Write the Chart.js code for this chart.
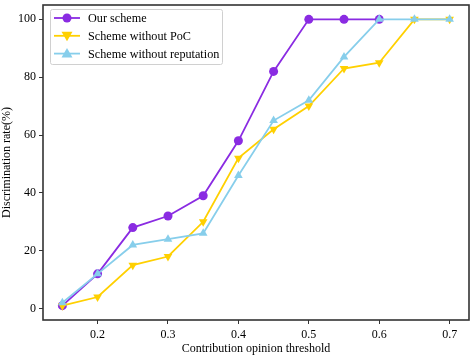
<!DOCTYPE html>
<html><head><meta charset="utf-8">
<script src="https://cdn.jsdelivr.net/npm/chart.js@4"></script>
<style>html,body{margin:0;padding:0;background:#fff}#wrap{width:474px;height:356px}</style>
</head><body><div id="wrap"><canvas id="c" width="474" height="356"></canvas></div>
<script>
const thresholds = [0.15,0.2,0.25,0.3,0.35,0.4,0.45,0.5,0.55,0.6,0.65,0.7];
const ourScheme = [1,12,28,32,39,58,82,100,100,100];
const withoutPoC = [1,4,15,18,30,52,62,70,83,85,100,100];
const withoutReputation = [2,12,22,24,26,46,65,72,87,100,100,100];
const xTicks = [0.2,0.3,0.4,0.5,0.6,0.7];
const yTicks = [0,20,40,60,80,100];
const seriesNames = ['Our scheme','Scheme without PoC','Scheme without reputation'];

const FONT = '"Liberation Serif", "Times New Roman", serif';
const toPts = arr => arr.map((v,i)=>({x:thresholds[i],y:v}));

const colors = ['#8a2be2','#ffd000','#87ceeb'];

const frame = {
  id:'frame',
  afterDatasetsDraw(chart){
    const {ctx, chartArea:a} = chart;
    ctx.save();
    ctx.strokeStyle='#333'; ctx.lineWidth=1.6;
    ctx.strokeRect(a.left, a.top, a.right-a.left, a.bottom-a.top);
    ctx.restore();
  },
  afterDraw(chart){
    const {ctx, chartArea:a} = chart;
    ctx.save();
    const bx=a.left+7, by=a.top+4, bw=172, bh=55;
    ctx.fillStyle='rgba(255,255,255,0.85)';
    ctx.strokeStyle='#d0d0d0'; ctx.lineWidth=1;
    ctx.beginPath();
    if (ctx.roundRect) ctx.roundRect(bx+0.5,by+0.5,bw,bh,2); else ctx.rect(bx+0.5,by+0.5,bw,bh);
    ctx.fill(); ctx.stroke();
    ctx.font='12.2px '+FONT; ctx.textBaseline='middle'; ctx.textAlign='left';
    chart.data.datasets.forEach((ds,i)=>{
      const y = by+9+i*17.8;
      ctx.strokeStyle=ds.borderColor; ctx.lineWidth=ds.borderWidth;
      ctx.beginPath(); ctx.moveTo(bx+4,y); ctx.lineTo(bx+30,y); ctx.stroke();
      ctx.fillStyle=ds.pointBackgroundColor;
      const cx=bx+17, r=ds.pointRadius;
      ctx.beginPath();
      if (ds.pointStyle==='circle'){ ctx.arc(cx,y,r,0,Math.PI*2); }
      else if (ds.pointRotation===180){ ctx.moveTo(cx-r*1.1,y-r*0.8); ctx.lineTo(cx+r*1.1,y-r*0.8); ctx.lineTo(cx,y+r*1.1); ctx.closePath(); }
      else { ctx.moveTo(cx-r*1.1,y+r*0.8); ctx.lineTo(cx+r*1.1,y+r*0.8); ctx.lineTo(cx,y-r*1.1); ctx.closePath(); }
      ctx.fill();
      ctx.fillStyle='#000';
      ctx.fillText(seriesNames[i], bx+38, y+1);
    });
    ctx.restore();
  }
};

new Chart(document.getElementById('c'), {
  type:'line',
  data:{datasets:[
    {label:seriesNames[0], data:toPts(ourScheme), borderColor:colors[0], backgroundColor:colors[0], pointBackgroundColor:colors[0], pointBorderColor:colors[0], pointStyle:'circle', pointRadius:4.5, pointBorderWidth:0, borderWidth:1.8, order:3},
    {label:seriesNames[1], data:toPts(withoutPoC), borderColor:colors[1], backgroundColor:colors[1], pointBackgroundColor:colors[1], pointBorderColor:colors[1], pointStyle:'triangle', pointRotation:180, pointRadius:5, pointBorderWidth:0, borderWidth:1.8, order:2},
    {label:seriesNames[2], data:toPts(withoutReputation), borderColor:colors[2], backgroundColor:colors[2], pointBackgroundColor:colors[2], pointBorderColor:colors[2], pointStyle:'triangle', pointRadius:5, pointBorderWidth:0, borderWidth:1.8, order:1}
  ]},
  plugins:[frame],
  options:{
    responsive:false, animation:false,
    layout:{padding:{top:1,right:1,left:0,bottom:0}},
    plugins:{legend:{display:false}, tooltip:{enabled:false}},
    elements:{line:{tension:0}},
    scales:{
      x:{type:'linear', min:0.1225, max:0.7275,
        afterBuildTicks(s){ s.ticks = xTicks.map(v=>({value:v})); },
        afterFit(s){ s.height=36; s.paddingLeft=0; s.paddingRight=0; },
        grid:{drawOnChartArea:false, drawTicks:true, tickLength:4, color:'#333', tickWidth:1},
        border:{display:false},
        ticks:{color:'#000', font:{family:FONT,size:12}, padding:4, callback:v=>v.toFixed(1), maxRotation:0},
        title:{display:true, text:'Contribution opinion threshold', color:'#000', font:{family:FONT,size:12}, padding:{top:0,bottom:0}}
      },
      y:{type:'linear', min:-3.95, max:104.95,
        afterBuildTicks(s){ s.ticks = yTicks.map(v=>({value:v})); },
        afterFit(s){ s.width=43; s.paddingTop=0; s.paddingBottom=0; },
        grid:{drawOnChartArea:false, drawTicks:true, tickLength:4, color:'#333', tickWidth:1},
        border:{display:false},
        ticks:{color:'#000', font:{family:FONT,size:12}, padding:3},
        title:{display:true, text:'Discrimination rate(%)', color:'#000', font:{family:FONT,size:12}, padding:{top:0,bottom:0}}
      }
    }
  }
});
</script></body></html>
